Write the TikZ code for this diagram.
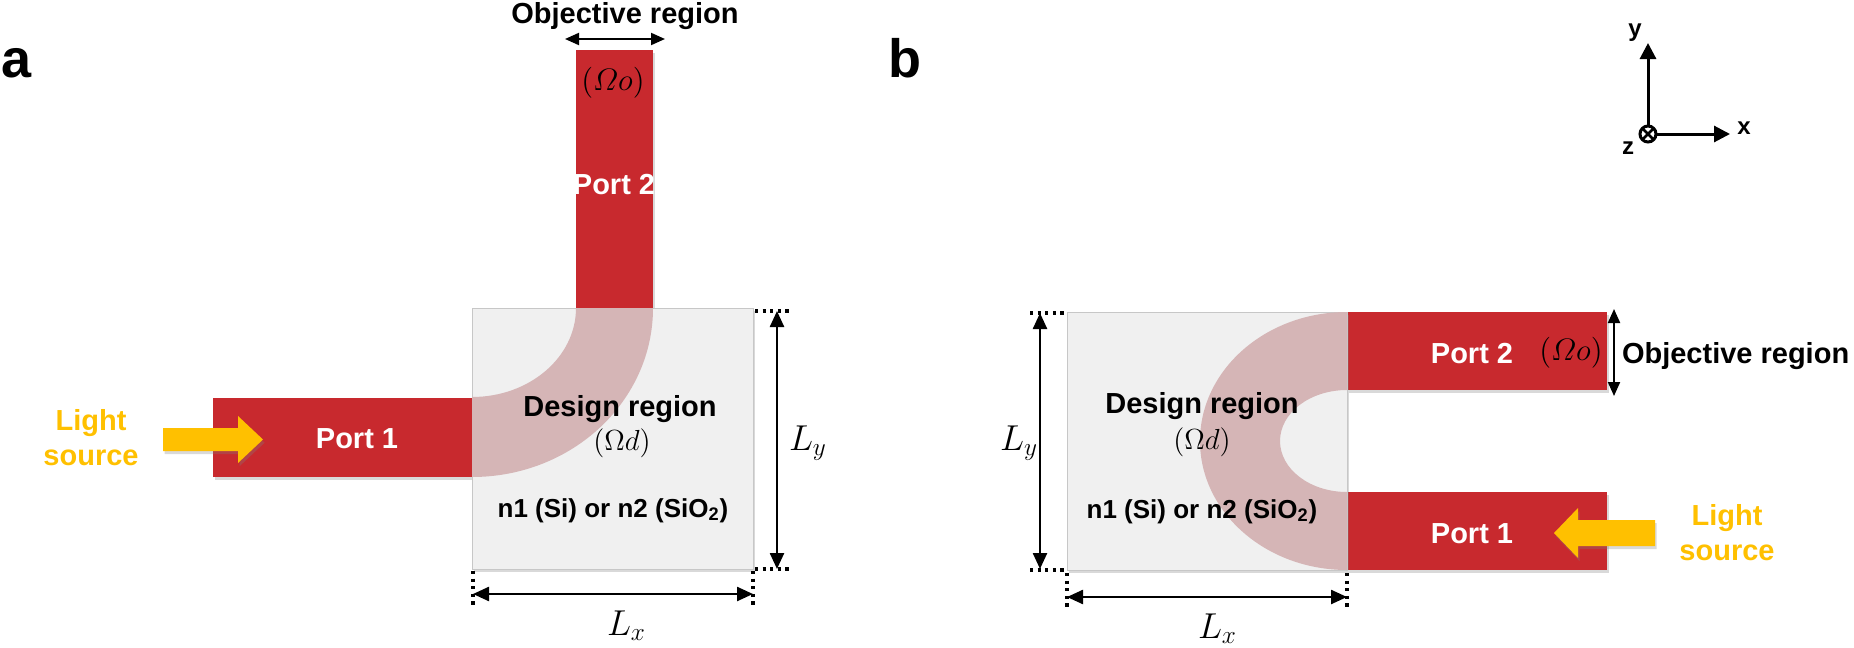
\RequirePackage{fix-cm}
\documentclass[tikz,border=0pt]{standalone}
\usepackage[no-math]{fontspec}
\setmainfont{Liberation Sans}
\usepackage{amsmath}
\usetikzlibrary{arrows.meta,shadows}
\definecolor{portred}{HTML}{C8292E}
\definecolor{designgray}{HTML}{F0F0F0}
\definecolor{ringpink}{HTML}{D5B5B6}
\definecolor{lightgold}{HTML}{FFC000}
\begin{document}
\begin{tikzpicture}[x=0.5pt,y=-0.5pt,
  every node/.style={inner sep=0pt, outer sep=0pt},
  portbox/.style={fill=portred, drop shadow={shadow xshift=0.8pt,shadow yshift=-1.6pt,opacity=0.3}},
  designbox/.style={fill=designgray, draw=black!22, line width=0.5pt, drop shadow={shadow xshift=0.8pt,shadow yshift=-1.6pt,opacity=0.3}},
  ringfill/.style={fill=ringpink},
  bigtxt/.style={font=\bfseries\fontsize{14.5}{17}\selectfont},
  midtxt/.style={font=\bfseries\fontsize{13}{15}\selectfont},
  porttxt/.style={bigtxt, text=white},
  lighttxt/.style={bigtxt, text=lightgold},
  mathtxt/.style={font=\fontsize{14.5}{17}\selectfont},
  omathtxt/.style={font=\fontsize{15.5}{18}\selectfont},
  dimtxt/.style={font=\fontsize{18}{22}\selectfont},
  paneltxt/.style={font=\bfseries\fontsize{27}{30}\selectfont},
  axtxt/.style={font=\bfseries\fontsize{12}{14}\selectfont},
  dimarrow/.style={line width=1.2pt, {Triangle[length=8pt,width=7pt]}-{Triangle[length=8pt,width=7pt]}},
  objarrow/.style={line width=1pt, {Triangle[length=7pt,width=6pt]}-{Triangle[length=7pt,width=6pt]}},
  dotline/.style={line width=1.6pt, dash pattern=on 1.6pt off 2.2pt},
  axisarrow/.style={line width=1.5pt, -{Triangle[length=8pt,width=8pt]}},
  lightarrow/.style={fill=lightgold, drop shadow={shadow xshift=0.8pt,shadow yshift=-1.6pt,opacity=0.3}},
]
\useasboundingbox (0,0) rectangle (1854,648);

%================ Panel a ================
\node[paneltxt, anchor=base west] (lbla) at (2,77) {a};
% ports
\path[portbox] (576,50) rectangle (653,308);
\path[portbox] (213,398) rectangle (472,477);
% design region
\path[designbox] (472,308) rectangle (753,569);
% bend ring
\path[ringfill] (653,308) arc[start angle=0, end angle=90, x radius=181, y radius=169]
  -- (472,397) arc[start angle=90, end angle=0, x radius=104, y radius=89] -- cycle;
% texts
\node[bigtxt, anchor=base] (dra) at (620,416) {Design region};
\node[mathtxt] (oda) at (622,443) {$(\Omega d)$};
\node[midtxt, anchor=base] (na) at (613,517) {n1 (Si) or n2 (SiO\textsubscript{2})};
\node[porttxt, anchor=base] (p2a) at (614,194) {Port 2};
\node[porttxt, anchor=base] (p1a) at (357,448) {Port 1};
\node[omathtxt] (ooa) at (613,83) {$(\varOmega o)$};
\node[bigtxt, anchor=base] (obja) at (625,24) {Objective region};
\coordinate (oal) at (565,39);
\coordinate (oar) at (665,39);
\draw[objarrow] (oal) -- (oar);
% light source a
\node[lighttxt, anchor=base] (lta) at (91,430) {Light};
\node[lighttxt, anchor=base] (sra) at (91,465) {source};
\path[lightarrow] (163,428) -- (238,428) -- (238,416) -- (263,439.5) -- (238,463) -- (238,451) -- (163,451) -- cycle;
% dimensions a
\coordinate (lyat) at (777,311);
\coordinate (lyab) at (777,569);
\draw[dotline] (755,311) -- (791,311);
\draw[dotline] (755,569) -- (791,569);
\draw[dimarrow] (lyat) -- (lyab);
\node[dimtxt, anchor=base west] (lya) at (789,450) {$L_y$};
\coordinate (lxal) at (473,594);
\coordinate (lxar) at (753,594);
\draw[dotline] (473,571) -- (473,605);
\draw[dotline] (753,571) -- (753,605);
\draw[dimarrow] (lxal) -- (lxar);
\node[dimtxt, anchor=base west] (lxa) at (607,635) {$L_x$};

%================ Panel b ================
\node[paneltxt, anchor=base west] (lblb) at (888,77) {b};
\path[portbox] (1347,312) rectangle (1607,390);
\path[portbox] (1347,492) rectangle (1607,570);
\path[designbox] (1067,312) rectangle (1347,570);
\path[ringfill] (1347,312) arc[start angle=-90, end angle=-270, x radius=147, y radius=129]
  -- (1347,492) arc[start angle=90, end angle=270, x radius=67, y radius=51] -- cycle;
\node[bigtxt, anchor=base] (drb) at (1202,413) {Design region};
\node[mathtxt] (odb) at (1202,442) {$(\Omega d)$};
\node[midtxt, anchor=base] (nb) at (1202,518) {n1 (Si) or n2 (SiO\textsubscript{2})};
\node[porttxt, anchor=base] (p2b) at (1472,363) {Port 2};
\node[porttxt, anchor=base] (p1b) at (1472,543) {Port 1};
\node[omathtxt] (oob) at (1571,353) {$(\varOmega o)$};
\coordinate (obt) at (1614,309);
\coordinate (obb) at (1614,396);
\draw[objarrow] (obt) -- (obb);
\node[bigtxt, anchor=base west] (objb) at (1622,363) {Objective region};
% light source b
\node[lighttxt, anchor=base] (ltb) at (1727,525) {Light};
\node[lighttxt, anchor=base] (srb) at (1727,560) {source};
\path[lightarrow] (1655,520) -- (1578,520) -- (1578,508) -- (1554,533) -- (1578,558) -- (1578,546) -- (1655,546) -- cycle;
% dimensions b
\coordinate (lybt) at (1040,313);
\coordinate (lybb) at (1040,569);
\draw[dotline] (1030,313) -- (1067,313);
\draw[dotline] (1030,570) -- (1067,570);
\draw[dimarrow] (lybt) -- (lybb);
\node[dimtxt, anchor=base east] (lyb) at (1038,450) {$L_y$};
\coordinate (lxbl) at (1067,597);
\coordinate (lxbr) at (1347,597);
\draw[dotline] (1067,573) -- (1067,607);
\draw[dotline] (1347,573) -- (1347,607);
\draw[dimarrow] (lxbl) -- (lxbr);
\node[dimtxt, anchor=base west] (lxb) at (1198,638) {$L_x$};

%================ Axes ================
\coordinate (org) at (1648,134);
\draw[line width=1.5pt] (org) circle[radius=8];
\draw[line width=1.3pt] (1642.3,128.3) -- (1653.7,139.7) (1642.3,139.7) -- (1653.7,128.3);
\coordinate (ytip) at (1648,43);
\coordinate (xtip) at (1730,134);
\draw[axisarrow] (1648,126) -- (ytip);
\draw[axisarrow] (1656,134) -- (xtip);
\node[axtxt] (yl) at (1635,33) {y};
\node[axtxt] (xl) at (1744,128) {x};
\node[axtxt] (zl) at (1628,148) {z};
\end{tikzpicture}
\end{document}
